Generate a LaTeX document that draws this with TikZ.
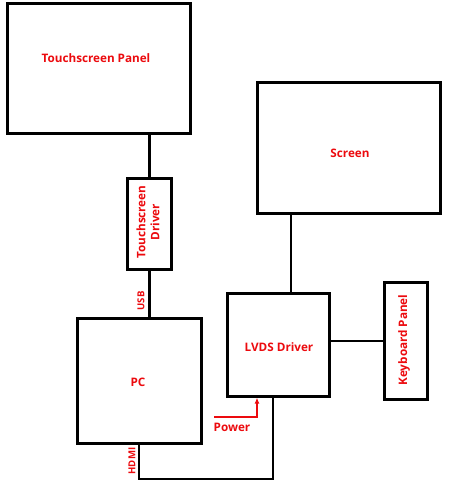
\documentclass[tikz,border=0pt]{standalone}
\usepackage{fontspec}
\setmainfont{Open Sans}
\usetikzlibrary{arrows.meta}
\definecolor{lbl}{RGB}{236,10,14}
\begin{document}
\begin{tikzpicture}[x=1pt,y=-1pt,
  box/.style={draw=black,line width=2.6pt,fill=white,anchor=north west,inner sep=0pt},
  txt/.style={text=lbl,font=\fontsize{11.7}{14}\selectfont\bfseries,align=center,inner sep=0pt},
  sml/.style={text=lbl,font=\fontsize{9.6}{11}\selectfont\bfseries,inner sep=0pt,rotate=90},
  wire/.style={draw=black,line width=2.6pt},
  pwr/.style={draw=lbl,line width=2pt,-{Latex[length=6pt,width=5pt]}}]
\useasboundingbox (0,0) rectangle (474,481);
% boxes
\node[box,minimum width=183pt,minimum height=130pt] (tp) at (6,2) {};
\node[txt] (tpl) at (96,58) {Touchscreen Panel};
\node[box,minimum width=44pt,minimum height=91pt] (td) at (126,177) {};
\node[txt,rotate=90] (tdl) at (148,222) {Touchscreen\\Driver};
\node[box,minimum width=124pt,minimum height=125pt] (pc) at (76,317) {};
\node[txt] (pcl) at (138,382) {PC};
\node[box,minimum width=102pt,minimum height=103pt] (lv) at (226,292) {};
\node[txt] (lvl) at (279,347) {LVDS Driver};
\node[box,minimum width=183pt,minimum height=131pt] (sc) at (256,81) {};
\node[txt] (scl) at (350,153) {Screen};
\node[box,minimum width=43pt,minimum height=117pt] (kp) at (383,281) {};
\node[txt,rotate=90] (kpl) at (404,340) {Keyboard Panel};
% small labels
\node[sml] (usb) at (141,301) {USB};
\node[sml] (hdmi) at (132,461) {HDMI};
\node[txt] (pw) at (232,427) {Power};
% connectors
\draw[wire] (tp.south -| td.north) -- (td.north);
\draw[wire] (td.south) -- (td.south |- pc.north);
\coordinate (h1) at (139,479);
\coordinate (h2) at (273,479);
\draw[wire] (pc.south -| h1) -- (h1) -- (h2) -- (h2 |- lv.south);
\coordinate (s1) at (291,0);
\draw[wire] (sc.south -| s1) -- (lv.north -| s1);
\draw[wire] (lv.east |- kp.west) -- (kp.west);
\coordinate (p0) at (214,417);
\coordinate (p1) at (257,417);
\draw[pwr] (p0) -- (p1) -- (p1 |- lv.south);
\end{tikzpicture}
\end{document}
